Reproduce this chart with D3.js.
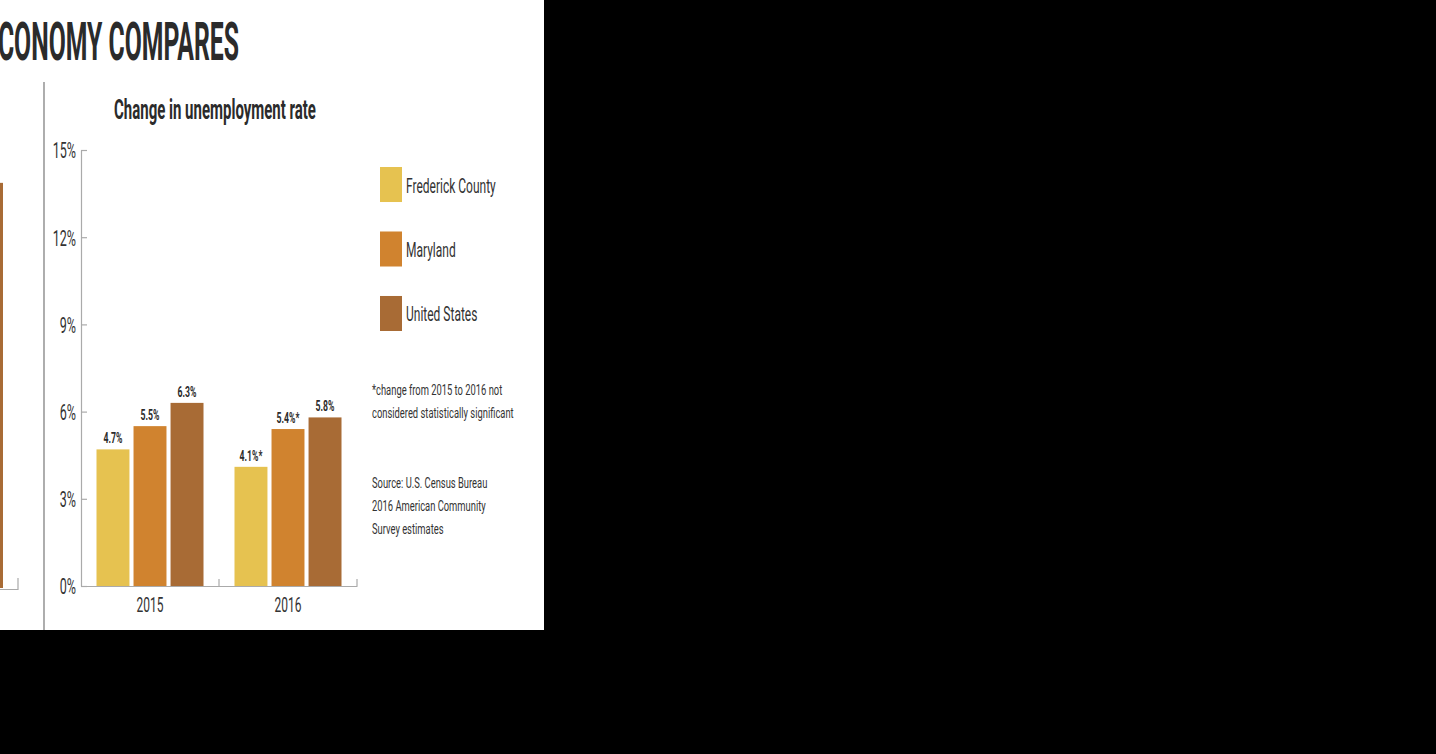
<!DOCTYPE html>
<html>
<head>
<meta charset="utf-8">
<script src="https://cdn.jsdelivr.net/npm/d3@7"></script>
<style>
  body { margin: 0; background: #000; }
  text { font-family: Roboto, "Open Sans", sans-serif; fill: #333; }
</style>
</head>
<body>
<svg id="chart" width="1436" height="754"></svg>
<script>
  // data
  var years = ["2015", "2016"];
  var series = ["Frederick County", "Maryland", "United States"];
  var colors = ["#e6c250", "#d0832f", "#a86b35"];
  var values2015 = [4.7, 5.5, 6.3];
  var values2016 = [4.1, 5.4, 5.8];
  var valueLabels2015 = ["4.7%", "5.5%", "6.3%"];
  var valueLabels2016 = ["4.1%*", "5.4%*", "5.8%"];
  var yTicks = [0, 3, 6, 9, 12, 15];
  var footnote = ["*change from 2015 to 2016 not", "considered statistically significant"];
  var source = ["Source: U.S. Census Bureau", "2016 American Community", "Survey estimates"];
  // the neighbouring panel is cut off, only its last bar shows
  var leftPanelValues = [92.5];

  var svg = d3.select("#chart");

  // squeeze text horizontally to mimic the condensed face
  function squeeze(sel, k) {
      sel.each(function () {
          var w = this.getComputedTextLength();
          d3.select(this).attr("textLength", w * k)
              .attr("lengthAdjust", "spacingAndGlyphs");
      });
  }

  svg.append("rect").attr("x", 0).attr("y", 0)
      .attr("width", 544).attr("height", 630).attr("fill", "#fff");

  // big headline, cut at the left edge like the original
  var head = svg.append("text").attr("x", -16).attr("y", 60)
      .style("font-size", "53px").style("font-weight", "bold")
      .style("fill", "#2b2b2b").text("ECONOMY COMPARES");
  head.attr("textLength", 255).attr("lengthAdjust", "spacingAndGlyphs");

  // divider between the panels
  svg.append("line").attr("x1", 44).attr("x2", 44)
      .attr("y1", 82).attr("y2", 630)
      .attr("stroke", "#777").attr("stroke-width", 1.2);

  // leftover of the left panel
  var yLeft = d3.scaleLinear().domain([0, 100]).range([588, 150]);
  var xLeft = d3.scaleBand().domain(["c"]).range([-33, 3]);
  svg.append("g").selectAll("rect").data(leftPanelValues).enter().append("rect")
      .attr("x", xLeft("c")).attr("width", xLeft.bandwidth())
      .attr("y", (d) => yLeft(d)).attr("height", (d) => yLeft(0) - yLeft(d))
      .attr("fill", colors[2]);
  svg.append("path")
      .attr("d", "M0," + (yLeft(0) + 1.5) + "H18V" + (yLeft(0) - 10))
      .attr("fill", "none").attr("stroke", "#aaa").attr("stroke-width", 1.2);

  // right panel
  var y = d3.scaleLinear().domain([0, 15]).range([586, 150]);
  var x0 = d3.scaleBand().domain(years).range([81, 357]);
  var x1 = d3.scaleBand().domain(series).range([15.5, 122.5]).paddingInner(0.11);
  var color = d3.scaleOrdinal().domain(series).range(colors);

  var title = svg.append("text").attr("x", 215).attr("y", 119)
      .attr("text-anchor", "middle")
      .style("font-size", "27px").style("font-weight", "bold")
      .style("fill", "#2b2b2b").text("Change in unemployment rate");
  squeeze(title, 0.555);

  var yAxis = svg.append("g").attr("transform", "translate(81,0)")
      .call(d3.axisLeft(y).tickValues(yTicks).tickSize(-6).tickSizeOuter(0)
            .tickPadding(5).tickFormat((d) => d + "%"));
  yAxis.selectAll("path, line").attr("stroke", "#aaa").attr("stroke-width", 1.2);
  yAxis.selectAll("text").style("font-size", "22px")
      .style("font-family", "Roboto, sans-serif").attr("fill", "#333")
      .attr("dy", "0.36em");
  squeeze(yAxis.selectAll("text"), 0.57);

  var rows = years.map((yr, i) => ({
      year: yr,
      vals: i == 0 ? values2015 : values2016,
      labs: i == 0 ? valueLabels2015 : valueLabels2016
  }));

  var groups = svg.append("g").selectAll("g").data(rows).enter().append("g")
      .attr("transform", (d) => "translate(" + x0(d.year) + ",0)");
  groups.selectAll("rect")
      .data((d) => d.vals.map((v, j) => ({s: series[j], v: v, lab: d.labs[j]})))
      .enter().append("rect")
      .attr("x", (d) => x1(d.s)).attr("width", x1.bandwidth())
      .attr("y", (d) => y(d.v)).attr("height", (d) => y(0) - y(d.v))
      .attr("fill", (d) => color(d.s));
  var vl = groups.selectAll("text.val")
      .data((d) => d.vals.map((v, j) => ({s: series[j], v: v, lab: d.labs[j]})))
      .enter().append("text").attr("class", "val")
      .attr("x", (d) => x1(d.s) + x1.bandwidth() / 2)
      .attr("y", (d) => y(d.v) - 6)
      .attr("text-anchor", "middle")
      .style("font-size", "15px").style("font-weight", "bold")
      .style("fill", "#2b2b2b")
      .text((d) => d.lab);
  squeeze(vl, 0.58);

  // x axis
  var xAxis = svg.append("g").attr("transform", "translate(0," + y(0) + ")")
      .call(d3.axisBottom(x0).tickSize(0).tickSizeOuter(0).tickPadding(12));
  xAxis.select(".domain").attr("stroke", "#aaa").attr("stroke-width", 1.2);
  xAxis.selectAll("text").style("font-size", "20px")
      .style("font-family", "Roboto, sans-serif").attr("fill", "#333");
  squeeze(xAxis.selectAll("text"), 0.6);
  xAxis.selectAll("line.sep").data(years).enter().append("line")
      .attr("class", "sep")
      .attr("x1", (d) => x0(d) + x0.bandwidth()).attr("x2", (d) => x0(d) + x0.bandwidth())
      .attr("y1", 0).attr("y2", -7)
      .attr("stroke", "#aaa").attr("stroke-width", 1.2);

  // legend
  var ly = d3.scaleBand().domain(series).range([167, 331]).paddingInner(0.457);
  var leg = svg.append("g").selectAll("g").data(series).enter().append("g")
      .attr("transform", (d) => "translate(380," + ly(d) + ")");
  leg.append("rect").attr("width", 22).attr("height", ly.bandwidth())
      .attr("fill", (d) => color(d));
  var lt = leg.append("text").attr("x", 26).attr("y", ly.bandwidth() / 2 + 8)
      .style("font-size", "20px").text((d) => d);
  squeeze(lt, 0.6);

  // notes
  var notes = svg.append("g").selectAll("text")
      .data(footnote.map((t, i) => ({t: t, y: 395 + i * 23}))
            .concat(source.map((t, i) => ({t: t, y: 488 + i * 23}))))
      .enter().append("text")
      .attr("x", 372).attr("y", (d) => d.y)
      .style("font-size", "15px").text((d) => d.t);
  squeeze(notes, 0.625);
</script>
</body>
</html>
